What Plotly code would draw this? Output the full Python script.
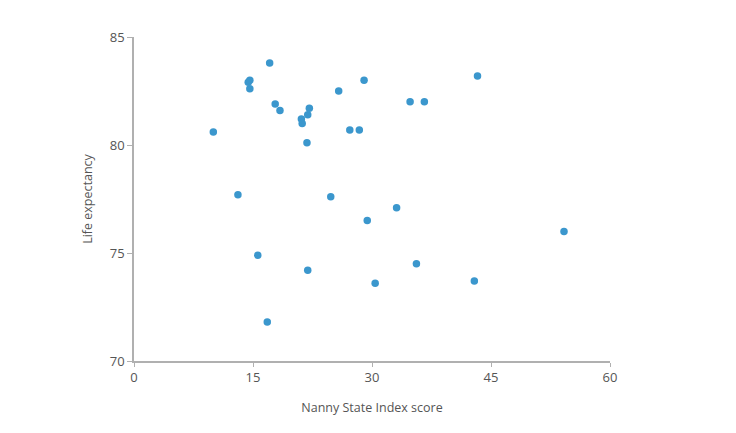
import plotly.graph_objects as go

# Nanny State Index score vs life expectancy
nanny_score = [
    17.1, 14.6, 14.4, 14.6, 10.0, 17.8, 18.4, 21.1, 21.2, 21.9,
    22.1, 21.8, 25.8, 29.0, 27.2, 28.4, 13.1, 24.8, 43.3, 34.8,
    36.6, 33.1, 29.4, 15.6, 21.9, 30.4, 35.6, 16.8, 54.2, 42.9,
]
life_expectancy = [
    83.8, 83.0, 82.9, 82.6, 80.6, 81.9, 81.6, 81.2, 81.0, 81.4,
    81.7, 80.1, 82.5, 83.0, 80.7, 80.7, 77.7, 77.6, 83.2, 82.0,
    82.0, 77.1, 76.5, 74.9, 74.2, 73.6, 74.5, 71.8, 76.0, 73.7,
]

x_ticks = [0, 15, 30, 45, 60]
y_ticks = [70, 75, 80, 85]

text_grey = "#555555"
axis_grey = "#b0b0b0"
dot_blue = "#3b97cd"

fig = go.Figure()
fig.add_trace(
    go.Scatter(
        x=nanny_score,
        y=life_expectancy,
        mode="markers",
        marker=dict(color=dot_blue, size=7.5, line=dict(width=0)),
        showlegend=False,
    )
)

# the page body adds an 8px offset, so margins are shifted to compensate
fig.update_layout(
    width=736,
    height=433,
    margin=dict(l=126, r=134, t=29, b=80),
    paper_bgcolor="white",
    plot_bgcolor="white",
    font=dict(family="Open Sans, sans-serif", size=13, color=text_grey),
)

fig.update_xaxes(
    range=[0, 60],
    tickvals=x_ticks,
    showgrid=False,
    zeroline=False,
    showline=True,
    linecolor=axis_grey,
    linewidth=1.5,
    ticks="outside",
    ticklen=4,
    tickcolor=axis_grey,
    title=dict(text="Nanny State Index score", standoff=18, font=dict(size=12.5)),
)
fig.update_yaxes(
    range=[70, 85],
    tickvals=y_ticks,
    showgrid=False,
    zeroline=False,
    showline=True,
    linecolor=axis_grey,
    linewidth=1.5,
    ticks="outside",
    ticklen=5,
    tickcolor=axis_grey,
    title=dict(text="Life expectancy", standoff=14, font=dict(size=12.5)),
)

fig.write_html("out.html")
